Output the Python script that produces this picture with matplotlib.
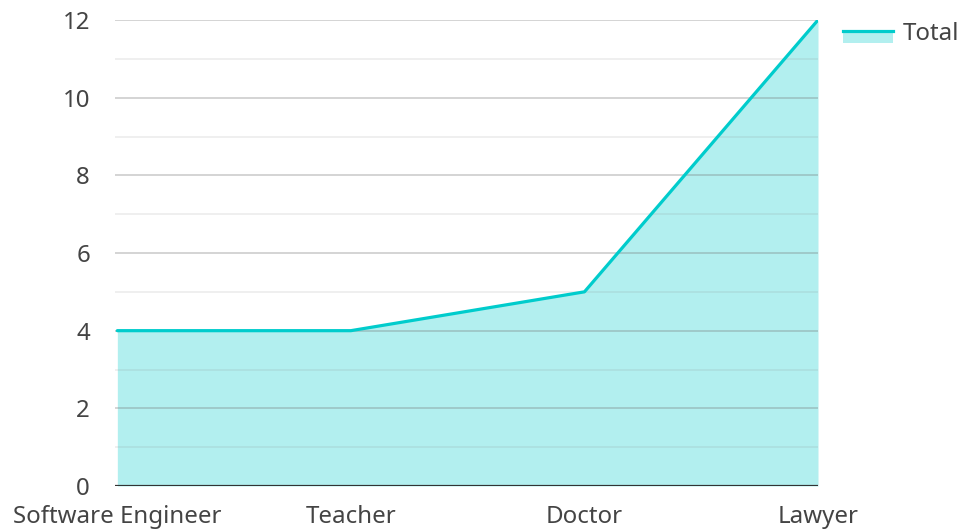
import matplotlib
matplotlib.use('Agg')
import numpy as np
from matplotlib import pyplot as plt
from matplotlib.patches import Rectangle
from matplotlib.lines import Line2D
from matplotlib.legend_handler import HandlerBase

plt.rcParams['font.family'] = ['Noto Sans', 'DejaVu Sans']

categories = ['Software Engineer', 'Teacher', 'Doctor', 'Lawyer']
totals = [4, 4, 5, 12]
y_major = [0, 2, 4, 6, 8, 10, 12]
y_minor = [1, 3, 5, 7, 9, 11]

LINE_COLOR = '#00CCCC'
FILL_COLOR = '#B2EFEF'
TEXT_COLOR = '#444444'
FS = 17.3


class AreaHandler(HandlerBase):
    # line on top, filled band underneath
    def create_artists(self, legend, orig_handle, xdescent, ydescent,
                       width, height, fontsize, trans):
        top = height * 0.5
        rect = Rectangle((-xdescent, top - 8.6), width, 8.6,
                         facecolor=FILL_COLOR, edgecolor='none', transform=trans)
        line = Line2D([-xdescent, -xdescent + width], [top, top],
                      color=LINE_COLOR, linewidth=2.3, transform=trans)
        return [rect, line]


fig = plt.figure(figsize=(9.59, 5.31), dpi=100)
ax = fig.add_axes([115 / 959, 1 - 486 / 531, (818 - 115) / 959, (486 - 20) / 531])

x = np.arange(len(categories))
ax.fill_between(x, totals, 0, color=FILL_COLOR, linewidth=0, zorder=1)
ax.plot(x, totals, color=LINE_COLOR, linewidth=2.3, zorder=4, solid_capstyle='round')

for v in y_minor:
    ax.axhline(v, color='#888888', alpha=0.17, linewidth=1.1, zorder=2)
for v in y_major[1:]:
    ax.axhline(v, color='#777777', alpha=0.4, linewidth=1.1, zorder=2)
ax.axhline(0, color='#333333', linewidth=1.6, zorder=5)

ax.set_xlim(-0.01, len(categories) - 1)
ax.set_ylim(0, 12)
ax.set_xticks(x)
ax.set_xticklabels(categories)
ax.set_yticks(y_major)
ax.tick_params(length=0, labelsize=FS, labelcolor=TEXT_COLOR)
ax.tick_params(axis='y', pad=18)
ax.tick_params(axis='x', pad=14)
for s in ax.spines.values():
    s.set_visible(False)

leg = ax.legend([object()], ['Total'], handler_map={object: AreaHandler()},
                loc='center left', bbox_to_anchor=(1.0356, 0.971), frameon=False,
                borderpad=0, borderaxespad=0,
                fontsize=FS, handlelength=2.08, handletextpad=0.42)
for t in leg.get_texts():
    t.set_color(TEXT_COLOR)

fig.savefig('out.png', dpi=100)
